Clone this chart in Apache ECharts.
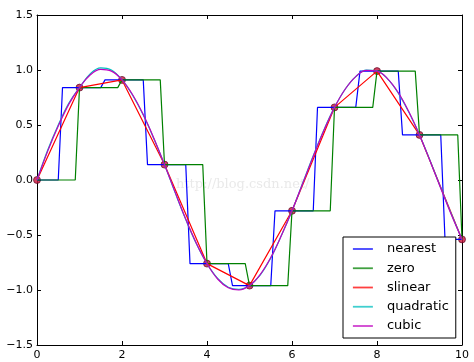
<!DOCTYPE html>
<html>
<head>
<meta charset="utf-8">
<script src="https://cdn.jsdelivr.net/npm/echarts@6/dist/echarts.min.js"></script>
<style>html,body{margin:0;padding:0;background:#fff}#c{width:474px;height:362px}</style>
</head>
<body>
<div id="c"></div>
<script>
// ---- data ----
const xNodes = [0, 1, 2, 3, 4, 5, 6, 7, 8, 9, 10];
const yNodes = [0.0, 0.84, 0.91, 0.14, -0.76, -0.96, -0.28, 0.66, 0.99, 0.41, -0.54];
// fine x step of the interpolation grid (seen as slanted step edges)
const fineStep = 0.1;
// smooth curves read at x = 0, 0.25, ..., 10
const xFine = [0,0.25,0.5,0.75,1,1.25,1.5,1.75,2,2.25,2.5,2.75,3,3.25,3.5,3.75,4,4.25,4.5,4.75,5,5.25,5.5,5.75,6,6.25,6.5,6.75,7,7.25,7.5,7.75,8,8.25,8.5,8.75,9,9.25,9.5,9.75,10];
const cubicY = [0,0.26,0.49,0.69,0.84,0.955,1.005,0.99,0.91,0.775,0.595,0.38,0.14,-0.11,-0.355,-0.575,-0.76,-0.9,-0.98,-1.0,-0.96,-0.86,-0.705,-0.505,-0.28,-0.033,0.215,0.45,0.66,0.825,0.94,0.997,0.99,0.92,0.795,0.62,0.41,0.172,-0.075,-0.316,-0.54];
const quadY  = [0,0.27,0.5,0.7,0.84,0.965,1.02,1.0,0.91,0.77,0.59,0.375,0.14,-0.115,-0.36,-0.58,-0.76,-0.895,-0.975,-0.995,-0.96,-0.865,-0.71,-0.505,-0.28,-0.03,0.22,0.455,0.66,0.825,0.94,0.998,0.99,0.92,0.79,0.615,0.41,0.175,-0.07,-0.31,-0.54];
const xTicks = [0, 2, 4, 6, 8, 10];
const yTicks = [-1.5, -1.0, -0.5, 0.0, 0.5, 1.0, 1.5];
const seriesNames = ['nearest', 'zero', 'slinear', 'quadratic', 'cubic'];
const seriesColors = ['#0000ff', '#008000', '#ff0000', '#00bfbf', '#bf00bf'];

// build the step paths from the node values
function nearestData() {
  const d = [[xNodes[0], yNodes[0]]];
  for (let k = 1; k < xNodes.length; k++) {
    const mid = (xNodes[k - 1] + xNodes[k]) / 2;
    d.push([mid, yNodes[k - 1]]);
    d.push([mid + fineStep, yNodes[k]]);
  }
  d.push([xNodes[xNodes.length - 1], yNodes[yNodes.length - 1]]);
  return d;
}
function zeroData() {
  const d = [[xNodes[0], yNodes[0]]];
  for (let k = 1; k < xNodes.length; k++) {
    d.push([xNodes[k] - fineStep, yNodes[k - 1]]);
    d.push([xNodes[k], yNodes[k]]);
  }
  return d;
}
const zip = (a, b) => a.map((v, i) => [v, b[i]]);

const FONT = 'DejaVu Sans';
const fmtY = v => {
  const s = Math.abs(v).toFixed(1);
  return (v < 0 ? '\u2212' : '') + s;
};
function axisBase(extra) {
  return Object.assign({
    type: 'value',
    axisLine: { show: true, onZero: false, lineStyle: { color: '#000', width: 1 } },
    axisTick: { show: true, inside: true, length: 4, lineStyle: { color: '#000', width: 1 } },
    splitLine: { show: false }
  }, extra);
}

const chart = echarts.init(document.getElementById('c'), null, { renderer: 'canvas' });
const lineData = [nearestData(), zeroData(), zip(xNodes, yNodes), zip(xFine, quadY), zip(xFine, cubicY)];

chart.setOption({
  animation: false,
  backgroundColor: '#fff',
  grid: { left: 37, top: 15, right: 12, bottom: 17, containLabel: false },
  xAxis: [
    axisBase({ position: 'bottom', min: xTicks[0], max: xTicks[xTicks.length - 1], interval: 2,
      axisLabel: { show: true, margin: 5, color: '#000', fontFamily: FONT, fontSize: 11,
        formatter: v => String(v) } }),
    axisBase({ position: 'top', min: xTicks[0], max: xTicks[xTicks.length - 1], interval: 2,
      axisLabel: { show: false } })
  ],
  yAxis: [
    axisBase({ position: 'left', min: yTicks[0], max: yTicks[yTicks.length - 1], interval: 0.5,
      axisLabel: { show: true, margin: 4, color: '#000', fontFamily: FONT, fontSize: 11, formatter: fmtY } }),
    axisBase({ position: 'right', min: yTicks[0], max: yTicks[yTicks.length - 1], interval: 0.5,
      axisLabel: { show: false } })
  ],
  legend: {
    orient: 'vertical',
    left: 343, top: 237,
    data: seriesNames,
    itemWidth: 20, itemHeight: 14, itemGap: 6.25,
    padding: [5.5, 7, 5.5, 9],
    borderColor: '#000', borderWidth: 1, borderRadius: 0,
    backgroundColor: '#fff',
    itemStyle: { opacity: 0, borderWidth: 0 },
    lineStyle: { width: 1.8, opacity: 0.75 },
    textStyle: { color: '#000', fontFamily: FONT, fontSize: 13, padding: [0, 0, 0, 9] }
  },
  graphic: [{
    type: 'text', left: 176, top: 178, z: 0,
    style: { text: 'http://blog.csdn.net/', fill: 'rgba(200,200,200,0.4)', font: '13px "DejaVu Serif"' }
  }],
  series: [
    {
      type: 'scatter', name: 'data', data: zip(xNodes, yNodes), symbolSize: 7, z: 2,
      itemStyle: { color: '#c8103a', borderColor: '#50001c', borderWidth: 0.8 }
    }
  ].concat(seriesNames.map((n, i) => ({
    type: 'line', name: n, data: lineData[i], symbol: 'none', showSymbol: false,
    smooth: i >= 3 ? 0.4 : false, z: 3,
    color: seriesColors[i],
    lineStyle: { color: seriesColors[i], width: 1.2 }
  })))
});
</script>
</body>
</html>
